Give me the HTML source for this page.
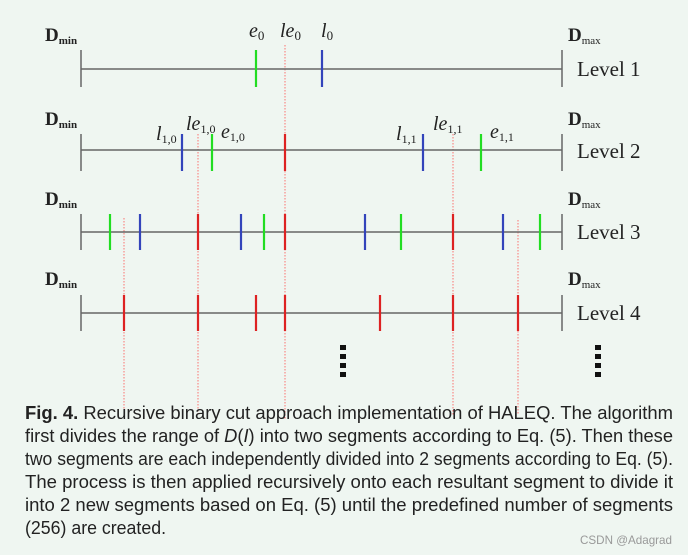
<!DOCTYPE html>
<html><head><meta charset="utf-8"><style>
html,body{margin:0;padding:0;background:#eff6f1;}
svg{display:block}
</style></head><body>
<svg width="688" height="555" viewBox="0 0 688 555" xmlns="http://www.w3.org/2000/svg">
<rect width="688" height="555" fill="#eff6f1"/>
<g stroke="#ff5050" stroke-width="1" stroke-dasharray="1.5,1.5" opacity="0.8">
<line x1="285" y1="45" x2="285" y2="420"/>
<line x1="198" y1="134" x2="198" y2="415"/>
<line x1="453" y1="134" x2="453" y2="415"/>
<line x1="124" y1="218" x2="124" y2="415"/>
<line x1="518" y1="220" x2="518" y2="415"/>
</g>
<g stroke="#666" stroke-width="1.5">
<line x1="81" y1="69" x2="562" y2="69"/><line x1="81" y1="50" x2="81" y2="87"/><line x1="562" y1="50" x2="562" y2="87"/>
<line x1="81" y1="150" x2="562" y2="150"/><line x1="81" y1="134" x2="81" y2="171"/><line x1="562" y1="134" x2="562" y2="171"/>
<line x1="81" y1="232" x2="562" y2="232"/><line x1="81" y1="214" x2="81" y2="250"/><line x1="562" y1="214" x2="562" y2="250"/>
<line x1="81" y1="313" x2="562" y2="313"/><line x1="81" y1="295" x2="81" y2="331"/><line x1="562" y1="295" x2="562" y2="331"/>
</g>
<g stroke-width="2.2">
<line x1="256" y1="50" x2="256" y2="87" stroke="#22dd22"/>
<line x1="322" y1="50" x2="322" y2="87" stroke="#3344bb"/>
<line x1="182" y1="134" x2="182" y2="171" stroke="#3344bb"/>
<line x1="212" y1="134" x2="212" y2="171" stroke="#22dd22"/>
<line x1="285" y1="134" x2="285" y2="171" stroke="#dd2222"/>
<line x1="423" y1="134" x2="423" y2="171" stroke="#3344bb"/>
<line x1="481" y1="134" x2="481" y2="171" stroke="#22dd22"/>
<line x1="110" y1="214" x2="110" y2="250" stroke="#22dd22"/>
<line x1="140" y1="214" x2="140" y2="250" stroke="#3344bb"/>
<line x1="198" y1="214" x2="198" y2="250" stroke="#dd2222"/>
<line x1="241" y1="214" x2="241" y2="250" stroke="#3344bb"/>
<line x1="264" y1="214" x2="264" y2="250" stroke="#22dd22"/>
<line x1="285" y1="214" x2="285" y2="250" stroke="#dd2222"/>
<line x1="365" y1="214" x2="365" y2="250" stroke="#3344bb"/>
<line x1="401" y1="214" x2="401" y2="250" stroke="#22dd22"/>
<line x1="453" y1="214" x2="453" y2="250" stroke="#dd2222"/>
<line x1="503" y1="214" x2="503" y2="250" stroke="#3344bb"/>
<line x1="540" y1="214" x2="540" y2="250" stroke="#22dd22"/>
<g stroke="#dd2222">
<line x1="124" y1="295" x2="124" y2="331"/><line x1="198" y1="295" x2="198" y2="331"/><line x1="256" y1="295" x2="256" y2="331"/><line x1="285" y1="295" x2="285" y2="331"/><line x1="380" y1="295" x2="380" y2="331"/><line x1="453" y1="295" x2="453" y2="331"/><line x1="518" y1="295" x2="518" y2="331"/>
</g>
</g>
<g fill="#111">
<rect x="340" y="345" width="6" height="5"/><rect x="340" y="354" width="6" height="5"/><rect x="340" y="363" width="6" height="5"/><rect x="340" y="372" width="6" height="5"/>
<rect x="595" y="345" width="6" height="5"/><rect x="595" y="354" width="6" height="5"/><rect x="595" y="363" width="6" height="5"/><rect x="595" y="372" width="6" height="5"/>
</g>
<g font-family="Liberation Serif, serif" fill="#222">
<g font-weight="bold" font-size="19">
<text x="45" y="41">D<tspan font-size="11" dy="3">min</tspan></text>
<text x="45" y="125">D<tspan font-size="11" dy="3">min</tspan></text>
<text x="45" y="205">D<tspan font-size="11" dy="3">min</tspan></text>
<text x="45" y="285">D<tspan font-size="11" dy="3">min</tspan></text>
<text x="568" y="41">D<tspan font-size="11" dy="3" font-weight="normal">max</tspan></text>
<text x="568" y="125">D<tspan font-size="11" dy="3" font-weight="normal">max</tspan></text>
<text x="568" y="205">D<tspan font-size="11" dy="3" font-weight="normal">max</tspan></text>
<text x="568" y="285">D<tspan font-size="11" dy="3" font-weight="normal">max</tspan></text>
</g>
<g font-size="21">
<text x="577" y="76">Level 1</text>
<text x="577" y="158">Level 2</text>
<text x="577" y="239">Level 3</text>
<text x="577" y="320">Level 4</text>
</g>
<g font-style="italic" font-size="20">
<text x="249" y="37">e<tspan font-size="13" dy="3" font-style="normal">0</tspan></text>
<text x="280" y="37">le<tspan font-size="13" dy="3" font-style="normal">0</tspan></text>
<text x="321" y="37">l<tspan font-size="13" dy="3" font-style="normal">0</tspan></text>
<text x="156" y="140">l<tspan font-size="12" dy="3" font-style="normal">1,0</tspan></text>
<text x="186" y="130">le<tspan font-size="12" dy="3" font-style="normal">1,0</tspan></text>
<text x="221" y="138">e<tspan font-size="12" dy="3" font-style="normal">1,0</tspan></text>
<text x="396" y="140">l<tspan font-size="12" dy="3" font-style="normal">1,1</tspan></text>
<text x="433" y="130">le<tspan font-size="12" dy="3" font-style="normal">1,1</tspan></text>
<text x="490" y="138">e<tspan font-size="12" dy="3" font-style="normal">1,1</tspan></text>
</g>
</g>
<g font-family="Liberation Sans, sans-serif" font-size="18" fill="#222">
<text x="25" y="419" textLength="648" lengthAdjust="spacingAndGlyphs"><tspan font-weight="bold">Fig. 4.</tspan> Recursive binary cut approach implementation of HALEQ. The algorithm</text>
<text x="25" y="442" textLength="648" lengthAdjust="spacingAndGlyphs">first divides the range of <tspan font-style="italic">D</tspan>(<tspan font-style="italic">I</tspan>) into two segments according to Eq. (5). Then these</text>
<text x="25" y="465" textLength="648" lengthAdjust="spacingAndGlyphs">two segments are each independently divided into 2 segments according to Eq. (5).</text>
<text x="25" y="488" textLength="648" lengthAdjust="spacingAndGlyphs">The process is then applied recursively onto each resultant segment to divide it</text>
<text x="25" y="511" textLength="648" lengthAdjust="spacingAndGlyphs">into 2 new segments based on Eq. (5) until the predefined number of segments</text>
<text x="25" y="534" textLength="141" lengthAdjust="spacingAndGlyphs">(256) are created.</text>
</g>
<text x="580" y="544" font-family="Liberation Sans, sans-serif" font-size="12" fill="#999" textLength="92" lengthAdjust="spacingAndGlyphs">CSDN @Adagrad</text>
</svg>
</body></html>
